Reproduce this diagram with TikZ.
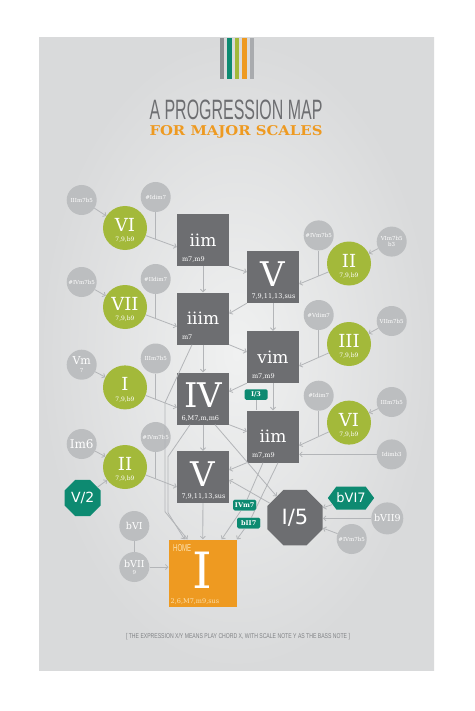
\documentclass[tikz,border=0pt]{standalone}
\usepackage{fontspec}
\setmainfont{DejaVu Serif}
\newfontfamily\headfont{Liberation Sans}
\newfontfamily\tagfont{DejaVu Sans}
\usetikzlibrary{shapes.geometric,shapes.symbols,arrows.meta,calc}

\definecolor{panelIn}{HTML}{F0F1F1}
\definecolor{panelOut}{HTML}{D9DADB}
\definecolor{boxGray}{HTML}{6D6E71}
\definecolor{footGray}{HTML}{808285}
\definecolor{subGray}{HTML}{BCBEC0}
\definecolor{lineGray}{HTML}{B3B5B8}
\definecolor{chGreen}{HTML}{A3B93A}
\definecolor{chTeal}{HTML}{0D8A71}
\definecolor{chOrange}{HTML}{EE9A21}
\definecolor{homeText}{HTML}{FCE2B0}
\definecolor{barGray}{HTML}{8D8E91}
\definecolor{barLight}{HTML}{A9ABAE}

\tikzset{
  chord/.style={fill=boxGray,minimum size=52pt,inner sep=0pt},
  bigtxt/.style={text=white,inner sep=0pt,font=\fontsize{17}{17}\selectfont},
  hugetxt/.style={text=white,inner sep=0pt,font=\fontsize{34}{34}\selectfont},
  subtxt/.style={text=white,inner sep=0pt,anchor=base west,font=\fontsize{6.5}{7}\selectfont},
  sec/.style={circle,fill=chGreen,minimum size=44pt,inner sep=0pt},
  sectxt/.style={text=white,inner sep=0pt,font=\fontsize{18}{18}\selectfont},
  secsub/.style={text=white,inner sep=0pt,font=\fontsize{6}{6}\selectfont},
  pre/.style={circle,fill=subGray,minimum size=30pt,inner sep=0pt,text=white,align=center,font=\fontsize{5.5}{6}\selectfont},
  tag/.style={rounded corners=1.5pt,fill=chTeal,text=white,minimum width=23pt,minimum height=10.5pt,inner sep=0pt,font=\bfseries\fontsize{6.5}{7}\selectfont},
  oct/.style={regular polygon,regular polygon sides=8,inner sep=0pt,text=white},
  link/.style={draw=lineGray,line width=0.8pt,-{Straight Barb[length=2.5pt,width=5pt]}},
  feed/.style={draw=lineGray,line width=0.8pt},
}

\begin{document}
\begin{tikzpicture}[x=1pt,y=1pt,yscale=-1]
\useasboundingbox (0,0) rectangle (474,711);
\fill[white] (0,0) rectangle (474,711);
\shade[inner color=panelIn,outer color=panelOut] (39,38) rectangle (434,670);

% stripes
\fill[barGray] (220,38) rectangle (224.4,79);
\fill[chTeal] (227.4,38) rectangle (231.8,79);
\fill[chGreen] (234.9,38) rectangle (239.3,79);
\fill[chOrange] (242.4,38) rectangle (246.8,79);
\fill[barLight] (249.9,38) rectangle (254.3,79);

% titles
\node[inner sep=0pt,text=boxGray,font=\headfont\fontsize{28}{28}\selectfont] (title) at (236,110) {\scalebox{0.57}[1]{A PROGRESSION MAP}};
\node[inner sep=0pt,text=chOrange,font=\bfseries\fontsize{13.5}{14}\selectfont] (subtitle) at (236,132) {\scalebox{1.1}[1]{FOR MAJOR SCALES}};

% chords
\node[chord] (iimA) at (203,240) {};
\node[bigtxt] at (iimA) {iim};
\node[subtxt] at ($(iimA.south west)+(5,-5)$) {m7,m9};
\node[chord] (VA) at (273,277) {};
\node[hugetxt] at ($(VA)+(0,-3)$) {V};
\node[subtxt] at ($(VA.south west)+(4.5,-5)$) {7,9,11,13,sus};
\node[chord] (iiim) at (203,318.5) {};
\node[bigtxt] at (iiim) {iiim};
\node[subtxt] at ($(iiim.south west)+(5,-5)$) {m7};
\node[chord] (vim) at (273,357) {};
\node[bigtxt] at (vim) {vim};
\node[subtxt] at ($(vim.south west)+(5,-5)$) {m7,m9};
\node[chord] (IV) at (203,398.5) {};
\node[hugetxt] at ($(IV)+(0,-3.5)$) {IV};
\node[subtxt] at ($(IV.south west)+(4.5,-4.5)$) {6,M7,m,m6};
\node[chord] (iimB) at (273,436.5) {};
\node[bigtxt] at (iimB) {iim};
\node[subtxt] at ($(iimB.south west)+(5,-5)$) {m7,m9};
\node[chord] (VB) at (203,477) {};
\node[hugetxt] at ($(VB)+(0,-3)$) {V};
\node[subtxt] at ($(VB.south west)+(4.5,-5)$) {7,9,11,13,sus};
\node[fill=chOrange,minimum width=68pt,minimum height=67pt,inner sep=0pt] (home) at (202.7,573) {};
\node[inner sep=0pt,text=homeText,anchor=north west,font=\headfont\fontsize{10}{10}\selectfont] at ($(home.north west)+(4.5,5)$) {\scalebox{0.6}[1]{HOME}};
\node[inner sep=0pt,text=white,font=\fontsize{50}{50}\selectfont] at ($(home)+(0,-3)$) {I};
\node[subtxt,text=homeText] at ($(home.south west)+(2,-3)$) {2,6,M7,m9,sus};

% secondary chords, left
\node[sec] (VIl) at (125,228) {};
\node[sectxt] at ($(VIl)+(0,-3)$) {VI};
\node[secsub] at ($(VIl)+(0,12)$) {7,9,b9};
\node[sec] (VIIl) at (125,307) {};
\node[sectxt] at ($(VIIl)+(0,-3)$) {VII};
\node[secsub] at ($(VIIl)+(0,12)$) {7,9,b9};
\node[sec] (Il) at (125,387.4) {};
\node[sectxt] at ($(Il)+(0,-3)$) {I};
\node[secsub] at ($(Il)+(0,12)$) {7,9,b9};
\node[sec] (IIl) at (125,467) {};
\node[sectxt] at ($(IIl)+(0,-3)$) {II};
\node[secsub] at ($(IIl)+(0,12)$) {7,9,b9};

% secondary chords, right
\node[sec] (IIr) at (349,263.5) {};
\node[sectxt] at ($(IIr)+(0,-3)$) {II};
\node[secsub] at ($(IIr)+(0,12)$) {7,9,b9};
\node[sec] (IIIr) at (349,344) {};
\node[sectxt] at ($(IIIr)+(0,-3)$) {III};
\node[secsub] at ($(IIIr)+(0,12)$) {7,9,b9};
\node[sec] (VIr) at (349,422.6) {};
\node[sectxt] at ($(VIr)+(0,-3)$) {VI};
\node[secsub] at ($(VIr)+(0,12)$) {7,9,b9};

% approach chords
\node[pre] (pA) at (81.7,200) {IIIm7b5};
\node[pre] (qA) at (155.7,197) {\#Idim7};
\node[pre] (pB) at (81.7,282) {\#IVm7b5};
\node[pre] (qB) at (155.7,279) {\#IIdim7};
\node[pre] (pC) at (81.7,364.7) {{\fontsize{11}{11}\selectfont Vm}\\[1.5pt]7};
\node[pre] (qC) at (155.7,358.5) {IIIm7b5};
\node[pre] (pD) at (81.7,444) {\fontsize{12}{12}\selectfont Im6};
\node[pre] (qD) at (155.7,437) {\#IVm7b5};
\node[pre] (rA) at (318.7,235.4) {\#IVm7b5};
\node[pre] (sA) at (391.7,241.6) {VIm7b5\\b3};
\node[pre] (rB) at (318.7,315) {\#Vdim7};
\node[pre] (sB) at (391.7,321) {VIIm7b5};
\node[pre] (rC) at (318.7,395.7) {\#Idim7};
\node[pre] (sC) at (391.7,402) {IIIm7b5};
\node[pre] (sD) at (391.7,454.4) {Idimb3};
\node[pre,font=\fontsize{9.5}{10}\selectfont] (bVI) at (134.3,526) {bVI};
\node[pre] (bVII) at (134.3,567) {{\fontsize{9.5}{10}\selectfont bVII}\\[1pt]9};
\node[pre,minimum size=32pt,font=\fontsize{9.5}{10}\selectfont] (bVIIn) at (387.3,518.4) {bVII9};
\node[pre] (sE) at (351.7,539) {\#IVm7b5};

% octagons and tags
\node[oct,fill=boxGray,minimum size=60pt,font=\tagfont\fontsize{21}{21}\selectfont] (Ifive) at (295,517.6) {I/5};
\node[oct,fill=chTeal,minimum size=39pt,font=\tagfont\fontsize{14}{14}\selectfont] (Vtwo) at (82.7,498) {V/2};
\node[signal,signal to=east and west,signal pointer angle=107,fill=chTeal,text=white,minimum width=37pt,minimum height=23pt,inner sep=0pt,font=\tagfont\fontsize{13}{13}\selectfont] (bVIseven) at (351,498) {bVI7};
\node[tag] (Ithree) at (256,394.5) {I/3};
\node[tag] (IVmseven) at (244.7,505) {IVm7};
\node[tag] (bIIseven) at (248.7,523) {bII7};

% column arrows
\draw[link] (iimA) -- (iiim);
\draw[link] (iiim) -- (IV);
\draw[link] (IV) -- (VB);
\draw[link] (VB) -- (home);
\draw[link] (VA) -- (vim);
\draw[link] (vim) -- (iimB);
\draw[link] (iimA.south east) -- ($(VA.west)+(0,-5)$);
\draw[link] (VA.south west) -- ($(iiim.east)+(0,-5)$);
\draw[link] (iiim.south east) -- ($(vim.west)+(0,-5)$);
\draw[link] (vim.south west) -- ($(IV.east)+(0,-7)$);
\draw[link] (IV.south east) -- ($(iimB.west)+(0,-5)$);
\draw[link] (iimB.south west) -- ($(VB.east)+(0,-7)$);
\draw[feed] (Ithree) -- (Ithree |- iimB.north);

% left groups
\draw[link] (pA) -- (VIl);
\draw[link] (VIl) -- coordinate[pos=0.32] (jA) ($(iimA.west)+(0,7)$);
\draw[feed] (qA) -- (qA |- jA);
\draw[link] (pB) -- (VIIl);
\draw[link] (VIIl) -- coordinate[pos=0.32] (jB) ($(iiim.west)+(0,8)$);
\draw[feed] (qB) -- (qB |- jB);
\draw[link] (pC) -- (Il);
\draw[link] (Il) -- coordinate[pos=0.32] (jC) ($(IV.west)+(0,9)$);
\draw[feed] (qC) -- (qC |- jC);
\draw[link] (pD) -- (IIl);
\draw[link] (IIl) -- coordinate[pos=0.32] (jD) ($(VB.west)+(0,10)$);
\draw[feed] (qD) -- (qD |- jD);
\draw[link] (Vtwo) -- (IIl);

% right groups
\draw[link] (sA) -- (IIr);
\draw[link] (IIr) -- coordinate[pos=0.33] (kA) ($(VA.east)+(0,7)$);
\draw[feed] (rA) -- (rA |- kA);
\draw[link] (sB) -- (IIIr);
\draw[link] (IIIr) -- coordinate[pos=0.33] (kB) ($(vim.east)+(0,9)$);
\draw[feed] (rB) -- (rB |- kB);
\draw[link] (sC) -- (VIr);
\draw[link] (VIr) -- coordinate[pos=0.33] (kC) ($(iimB.east)+(0,9)$);
\draw[feed] (rC) -- (rC |- kC);
\draw[link] (sD) -- (sD -| iimB.east);

% long paths to home
\draw[link] ($(iiim.south)+(-11,0)$) -- ++(-27,58) -- ++(0,109) -- ($(home.north west)+(19,0)$);
\draw[link] ($(IV.south)+(-13,0)$) -- ++(-22,32) -- ++(0,56) -- ($(home.north west)+(16,0)$);
\draw[link] ($(IV.south)+(12,0)$) -- (Ifive);
\draw[link] (Ifive) -- ($(VB.east)+(0,3)$);
\draw[feed] ($(iimB.south)+(-10,0)$) -- (IVmseven);
\draw[link] (IVmseven) -- ($(home.north)+(19,0)$);
\draw[feed] ($(iimB.south)+(5,0)$) -- (bIIseven);
\draw[link] (bIIseven) -- ($(home.north east)+(0,0)$);
\node[tag] at (IVmseven) {IVm7};
\node[tag] at (bIIseven) {bII7};

% into I/5
\draw[link] (bVIseven) -- (Ifive);
\draw[link] (bVIIn) -- (bVIIn -| Ifive.east);
\draw[link] (sE) -- (Ifive);

% flat chords
\draw[feed] (bVI) -- (bVII);
\draw[link] (bVII) -- (bVII -| home.west);

% footer
\node[inner sep=0pt,text=footGray,font=\headfont\fontsize{7}{7}\selectfont] (foot) at (238,637) {\scalebox{0.73}[1]{[ THE EXPRESSION X/Y MEANS PLAY CHORD X, WITH SCALE NOTE Y AS THE BASS NOTE ]}};
\end{tikzpicture}
\end{document}
